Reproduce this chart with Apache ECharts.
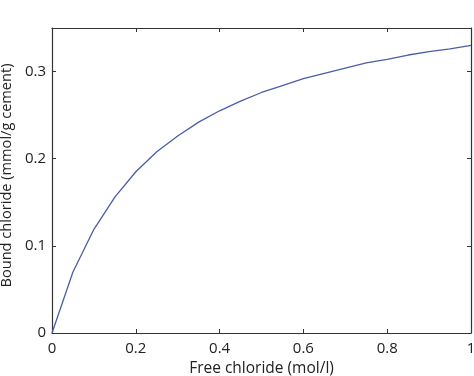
<!DOCTYPE html>
<html>
<head>
<meta charset="utf-8">
<script src="https://cdn.jsdelivr.net/npm/echarts@6/dist/echarts.min.js"></script>
<style>html,body{margin:0;padding:0;background:#fff}#c{width:474px;height:376px}</style>
</head>
<body>
<div id="c"></div>
<script>
var freeChloride = [0, 0.05, 0.1, 0.15, 0.2, 0.25, 0.3, 0.35, 0.4, 0.45, 0.5, 0.55, 0.6, 0.65, 0.7, 0.75, 0.8, 0.85, 0.9, 0.95, 1.0];
var boundChloride = [0, 0.070, 0.119, 0.156, 0.185, 0.208, 0.226, 0.242, 0.255, 0.266, 0.276, 0.284, 0.292, 0.298, 0.304, 0.310, 0.314, 0.319, 0.323, 0.326, 0.330];
var xTickLabels = ['0', '0.2', '0.4', '0.6', '0.8', '1'];
var yTickLabels = ['0', '0.1', '0.2', '0.3'];
var xTitle = 'Free chloride (mol/l)';
var yTitle = 'Bound chloride (mmol/g cement)';

var font = '"Open Sans", "Noto Sans", sans-serif';
var axisCol = '#333333';
function fmt(list) {
  return function (v) {
    var s = String(Math.round(v * 1000) / 1000);
    return list.indexOf(s) >= 0 ? s : '';
  };
}
var pts = freeChloride.map(function (x, i) { return [x, boundChloride[i]]; });
var chart = echarts.init(document.getElementById('c'), null, {renderer: 'canvas'});
var line = {show: true, onZero: false, lineStyle: {color: axisCol, width: 1.2}};
var tick = {show: true, inside: true, length: 4, lineStyle: {color: axisCol}};
chart.setOption({
  animation: false,
  backgroundColor: '#ffffff',
  grid: {left: 52, right: 3, top: 28, bottom: 43, containLabel: false, outerBoundsMode: 'none'},
  xAxis: [{
    type: 'value', min: 0, max: 1, interval: 0.2,
    name: xTitle, nameLocation: 'middle', nameGap: 22,
    nameTextStyle: {fontFamily: font, fontSize: 15.5, color: '#222'},
    axisLine: line, axisTick: tick,
    axisLabel: {fontFamily: font, fontSize: 15, color: '#222', margin: 8, formatter: fmt(xTickLabels)},
    splitLine: {show: false}
  }, {
    type: 'value', min: 0, max: 1, interval: 0.2, position: 'top',
    axisLine: line, axisTick: tick,
    axisLabel: {show: false}, splitLine: {show: false}
  }],
  yAxis: [{
    type: 'value', min: 0, max: 0.35, interval: 0.1,
    name: yTitle, nameLocation: 'middle', nameGap: 26,
    nameTextStyle: {fontFamily: font, fontSize: 14.6, color: '#222', padding: [0, 0, 0, 10]},
    axisLine: line, axisTick: tick,
    axisLabel: {fontFamily: font, fontSize: 15, color: '#222', margin: 6, showMaxLabel: false, formatter: fmt(yTickLabels)},
    splitLine: {show: false}
  }, {
    type: 'value', min: 0, max: 0.35, interval: 0.1, position: 'right',
    axisLine: line, axisTick: tick,
    axisLabel: {show: false}, splitLine: {show: false}
  }],
  series: [{
    type: 'line', data: pts, xAxisIndex: 0, yAxisIndex: 0,
    showSymbol: false, smooth: false,
    lineStyle: {color: '#4a5ea8', width: 1.3}
  }]
});
</script>
</body>
</html>
